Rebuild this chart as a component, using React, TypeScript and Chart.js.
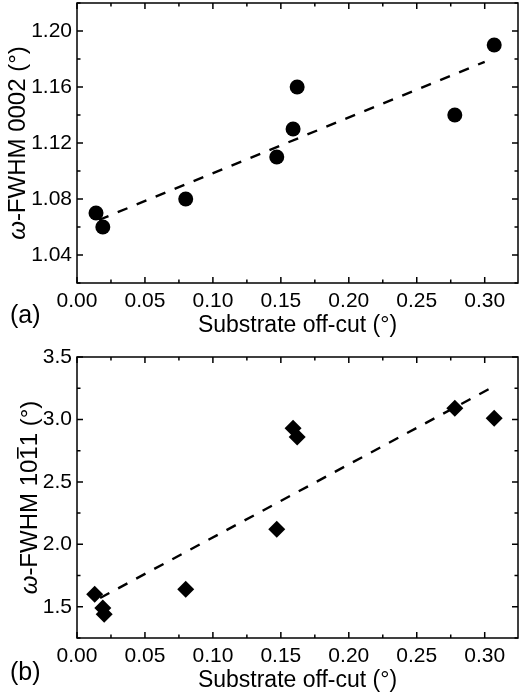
import { useEffect, useRef } from "react";
import { Chart, registerables } from "chart.js";

Chart.register(...registerables);

// (a) omega-FWHM 0002 vs substrate off-cut
const offCutA = [0.014, 0.019, 0.08, 0.147, 0.159, 0.162, 0.278, 0.307];
const fwhm0002 = [1.07, 1.06, 1.08, 1.11, 1.13, 1.16, 1.14, 1.19];
const fitAX = [0.016, 0.3];
const fitAY = [1.065, 1.178];

// (b) omega-FWHM 10-11 vs substrate off-cut
const offCutB = [0.013, 0.019, 0.02, 0.08, 0.147, 0.159, 0.162, 0.278, 0.307];
const fwhm1011 = [1.6, 1.49, 1.44, 1.64, 2.12, 2.93, 2.86, 3.09, 3.01];
const fitBX = [0.017, 0.306];
const fitBY = [1.57, 3.26];

const xTicks = [0, 0.05, 0.1, 0.15, 0.2, 0.25, 0.3];
const yTicksA = [1.04, 1.08, 1.12, 1.16, 1.2];
const yTicksB = [1.5, 2.0, 2.5, 3.0, 3.5];

const FONT = "'Liberation Sans', Arial, sans-serif";

type Part = { text: string; italic?: boolean; overline?: boolean };

type PanelProps = {
  xs: number[];
  ys: number[];
  fitX: number[];
  fitY: number[];
  yTicks: number[];
  yMin: number;
  yMax: number;
  decimals: number;
  marker: "circle" | "rectRot";
  radius: number;
  topPad: number;
  xAxisHeight: number;
  yTitle: Part[];
  yTitleX: number;
  letter: string;
  letterY: number;
};

function minors(major: number[], min: number, max: number) {
  const step = major[1] - major[0];
  const out: number[] = [];
  for (let i = -1; i < major.length; i++) {
    const v = major[0] + (i + 0.5) * step;
    if (v >= min - 1e-9 && v <= max + 1e-9) out.push(v);
  }
  return out;
}

// stop the scale from reserving room for half-labels at its ends
function noPad(scale: any) {
  scale.paddingTop = 0;
  scale.paddingBottom = 0;
  scale.paddingLeft = 0;
  scale.paddingRight = 0;
}

function Panel(p: PanelProps) {
  const chartRef = useRef<HTMLCanvasElement>(null);
  const chartInstance = useRef<Chart | null>(null);

  useEffect(() => {
    if (!chartRef.current) return;
    if (chartInstance.current) chartInstance.current.destroy();
    const ctx = chartRef.current.getContext("2d");
    if (!ctx) return;

    const xMax = 0.3245;

    const framePlugin = {
      id: "frame",
      afterDraw(chart: any) {
        const c = chart.ctx as CanvasRenderingContext2D;
        const { left, right, top, bottom } = chart.chartArea;
        const xs = chart.scales.x;
        const ys = chart.scales.y;
        c.save();
        c.strokeStyle = "#000";
        c.lineWidth = 1.5;
        c.strokeRect(left, top, right - left, bottom - top);
        c.beginPath();
        const tickX = (v: number, len: number) => {
          const px = xs.getPixelForValue(v);
          c.moveTo(px, bottom);
          c.lineTo(px, bottom - len);
          c.moveTo(px, top);
          c.lineTo(px, top + len);
        };
        const tickY = (v: number, len: number) => {
          const py = ys.getPixelForValue(v);
          c.moveTo(left, py);
          c.lineTo(left + len, py);
          c.moveTo(right, py);
          c.lineTo(right - len, py);
        };
        xTicks.forEach((v) => tickX(v, 6));
        minors(xTicks, 0, xMax).forEach((v) => tickX(v, 3.5));
        p.yTicks.forEach((v) => tickY(v, 6));
        minors(p.yTicks, p.yMin, p.yMax).forEach((v) => tickY(v, 3.5));
        c.stroke();

        // x title
        c.fillStyle = "#000";
        c.font = `23px ${FONT}`;
        c.textAlign = "center";
        c.textBaseline = "middle";
        c.fillText("Substrate off-cut (°)", (left + right) / 2, bottom + 43);

        // panel letter
        c.font = `25px ${FONT}`;
        c.textAlign = "left";
        c.fillText(p.letter, 10, p.letterY);

        // y title, rotated, with italic omega and optional overline
        const size = 24;
        const fontOf = (part: Part) =>
          `${part.italic ? "italic " : ""}${size}px ${FONT}`;
        let total = 0;
        const widths = p.yTitle.map((part) => {
          c.font = fontOf(part);
          const w = c.measureText(part.text).width;
          total += w;
          return w;
        });
        c.translate(p.yTitleX, (top + bottom) / 2);
        c.rotate(-Math.PI / 2);
        c.textBaseline = "alphabetic";
        let cx = -total / 2;
        p.yTitle.forEach((part, i) => {
          c.font = fontOf(part);
          c.fillText(part.text, cx, 0);
          if (part.overline) {
            c.lineWidth = 1.6;
            c.beginPath();
            c.moveTo(cx + 1, -size * 0.8);
            c.lineTo(cx + widths[i] - 1, -size * 0.8);
            c.stroke();
          }
          cx += widths[i];
        });
        c.restore();
      },
    };

    chartInstance.current = new Chart(ctx, {
      type: "scatter",
      data: {
        datasets: [
          {
            label: "data",
            data: p.xs.map((x, i) => ({ x, y: p.ys[i] })),
            pointStyle: p.marker,
            pointRadius: p.radius,
            backgroundColor: "#000",
            borderColor: "#000",
            borderWidth: 0,
          },
          {
            label: "fit",
            data: p.fitX.map((x, i) => ({ x, y: p.fitY[i] })),
            showLine: true,
            pointRadius: 0,
            borderColor: "#000",
            borderWidth: 2.4,
            borderDash: [10.5, 10],
            fill: false,
          },
        ],
      },
      options: {
        responsive: false,
        animation: false,
        layout: {
          autoPadding: false,
          padding: { top: p.topPad, right: 2, left: 0, bottom: 0 },
        },
        plugins: {
          legend: { display: false },
          tooltip: { enabled: false },
        },
        scales: {
          x: {
            type: "linear",
            min: 0,
            max: xMax,
            grid: { display: false, drawTicks: false },
            border: { display: false },
            afterBuildTicks: (scale: any) => {
              scale.ticks = xTicks.map((value) => ({ value }));
            },
            afterFit: (scale: any) => {
              scale.height = p.xAxisHeight;
              noPad(scale);
            },
            ticks: {
              color: "#000",
              padding: 6,
              maxRotation: 0,
              font: { family: FONT, size: 21 },
              callback: (v: any) => Number(v).toFixed(2),
            },
          },
          y: {
            type: "linear",
            min: p.yMin,
            max: p.yMax,
            grid: { display: false, drawTicks: false },
            border: { display: false },
            afterBuildTicks: (scale: any) => {
              scale.ticks = p.yTicks.map((value) => ({ value }));
            },
            afterFit: (scale: any) => {
              scale.width = 77;
              noPad(scale);
            },
            ticks: {
              color: "#000",
              padding: 5,
              font: { family: FONT, size: 21 },
              callback: (v: any) => Number(v).toFixed(p.decimals),
            },
          },
        },
      },
      plugins: [framePlugin],
    });

    return () => {
      if (chartInstance.current) {
        chartInstance.current.destroy();
        chartInstance.current = null;
      }
    };
  }, []);

  return (
    <canvas
      ref={chartRef}
      width={520}
      height={348}
      style={{ display: "block", width: 520, height: 348 }}
    />
  );
}

export default function App() {
  return (
    <div
      style={{
        position: "fixed",
        left: 0,
        top: 0,
        width: 520,
        height: 696,
        background: "#fff",
      }}
    >
      <Panel
        xs={offCutA}
        ys={fwhm0002}
        fitX={fitAX}
        fitY={fitAY}
        yTicks={yTicksA}
        yMin={1.02}
        yMax={1.22}
        decimals={2}
        marker="circle"
        radius={7.5}
        topPad={3}
        xAxisHeight={65}
        yTitle={[{ text: "ω", italic: true }, { text: "-FWHM 0002 (°)" }]}
        yTitleX={25}
        letter="(a)"
        letterY={316}
      />
      <Panel
        xs={offCutB}
        ys={fwhm1011}
        fitX={fitBX}
        fitY={fitBY}
        yTicks={yTicksB}
        yMin={1.25}
        yMax={3.5}
        decimals={1}
        marker="rectRot"
        radius={8.5}
        topPad={9}
        xAxisHeight={58}
        yTitle={[
          { text: "ω", italic: true },
          { text: "-FWHM 10" },
          { text: "1", overline: true },
          { text: "1 (°)" },
        ]}
        yTitleX={37}
        letter="(b)"
        letterY={325}
      />
    </div>
  );
}
